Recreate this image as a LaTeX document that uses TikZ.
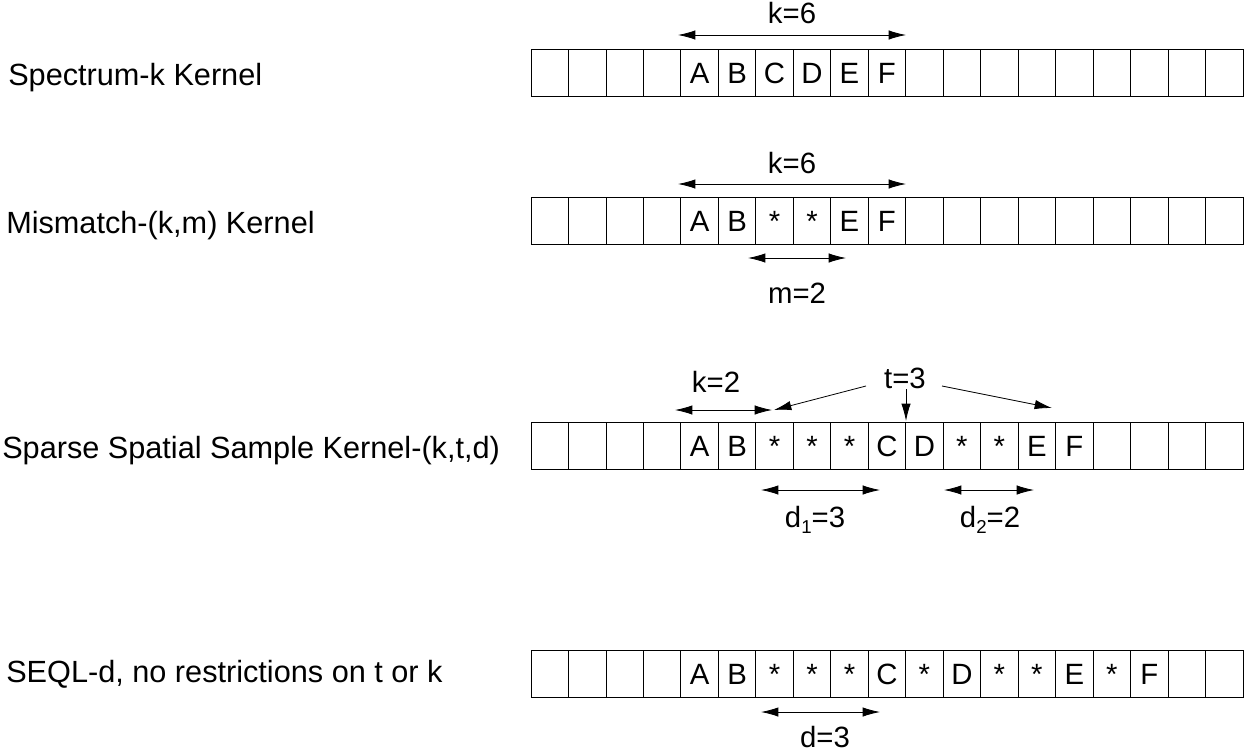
\documentclass[tikz,border=0pt]{standalone}
\usepackage{fontspec}
\setmainfont{Liberation Sans}
\usetikzlibrary{arrows.meta}
\begin{document}
\begin{tikzpicture}[x=0.75pt,y=-0.75pt,
  cell/.style={draw,line width=0.6pt,minimum width=28.1pt,minimum height=35.5pt,inner sep=0pt,font=\fontsize{22}{24}\selectfont},
  lbl/.style={font=\fontsize{22}{24}\selectfont,inner sep=0pt},
  side/.style={font=\fontsize{23}{25}\selectfont,inner sep=0pt,anchor=west},
  dim/.style={line width=0.6pt,{Latex[length=13pt,width=7pt]}-{Latex[length=13pt,width=7pt]}},
  pt/.style={line width=0.6pt,-{Latex[length=13pt,width=7pt]}}]
\useasboundingbox (0,0) rectangle (1249,753);
% rows
\foreach \r/\y/\letters in {1/73/{,,,,A,B,C,D,E,F,,,,,,,,,},
  2/221/{,,,,A,B,*,*,E,F,,,,,,,,,},
  3/446/{,,,,A,B,*,*,*,C,D,*,*,E,F,,,,},
  4/674/{,,,,A,B,*,*,*,C,*,D,*,*,E,*,F,,}}{
  \foreach \t [count=\i from 0] in \letters {
    \node[cell] (r\r c\i) at ({549.7+37.47*\i},\y) {\t};
  }
}
\node[side] (l1) at (8,78) {Spectrum-k Kernel};
\node[side] (l2) at (6,226) {Mismatch-(k,m) Kernel};
\node[side] (l3) at (2,451) {Sparse Spatial Sample Kernel-(k,t,d)};
\node[side] (l4) at (6,674) {SEQL-d, no restrictions on t or k};
% row 1
\coordinate (a1) at (678,35); \coordinate (b1) at (906,35);
\draw[dim] (a1) -- (b1);
\node[lbl] (k1) at (792,13) {k=6};
% row 2
\coordinate (a2) at (678,184); \coordinate (b2) at (906,184);
\draw[dim] (a2) -- (b2);
\node[lbl] (k2) at (792,163) {k=6};
\coordinate (a3) at (748,258); \coordinate (b3) at (846,258);
\draw[dim] (a3) -- (b3);
\node[lbl] (m2) at (797,293) {m=2};
% row 3
\coordinate (a4) at (675,410); \coordinate (b4) at (772,410);
\draw[dim] (a4) -- (b4);
\node[lbl] (k3) at (716,382) {k=2};
\node[lbl] (t3) at (905,378) {t=3};
\coordinate (t1s) at (866,386); \coordinate (t1e) at (774,410);
\coordinate (t2s) at (906,389); \coordinate (t2e) at (906,421);
\coordinate (t3s) at (942,386); \coordinate (t3e) at (1052,408);
\draw[pt] (t1s) -- (t1e);
\draw[pt] (t2s) -- (t2e);
\draw[pt] (t3s) -- (t3e);
\coordinate (a5) at (761,490); \coordinate (b5) at (880,490);
\draw[dim] (a5) -- (b5);
\node[lbl] (d1) at (815,520) {d\raisebox{-0.4ex}{\fontsize{14}{16}\selectfont 1}=3};
\coordinate (a6) at (944,490); \coordinate (b6) at (1034,490);
\draw[dim] (a6) -- (b6);
\node[lbl] (d2) at (990,520) {d\raisebox{-0.4ex}{\fontsize{14}{16}\selectfont 2}=2};
% row 4
\coordinate (a7) at (761,712); \coordinate (b7) at (880,712);
\draw[dim] (a7) -- (b7);
\node[lbl] (d3) at (825,737) {d=3};
\end{tikzpicture}
\end{document}
